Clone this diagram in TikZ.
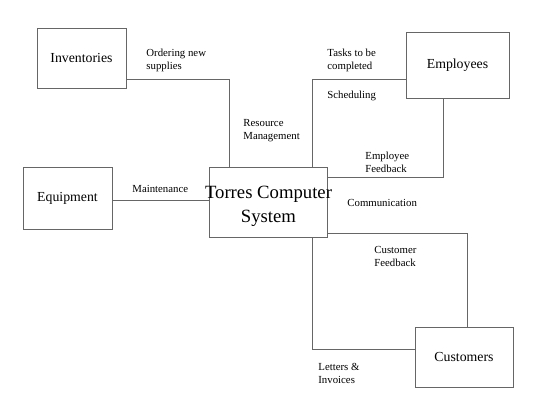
\documentclass[tikz,border=0pt]{standalone}
\usepackage{fontspec}
\setmainfont{Liberation Serif}

\begin{document}
\begin{tikzpicture}
  [x=1pt,y=-1pt,line width=0.8pt,
   box/.style={draw=black!60,rectangle,inner sep=0pt,font=\fontsize{13.8}{16}\selectfont},
   lbl/.style={anchor=west,align=left,inner sep=0pt,yshift=-1.5pt,font=\fontsize{10.8}{13}\selectfont}]
  \useasboundingbox (0,0) rectangle (560,420);
  % boxes
  \node[box,minimum width=89pt,minimum height=60pt] (inv) at (81.5,58) {Inventories};
  \node[box,minimum width=89pt,minimum height=62pt] (equ) at (67.5,198) {Equipment};
  \node[box,minimum width=118pt,minimum height=70pt] (tcs) at (268,202) {};
  \node[align=center,inner sep=0pt,font=\fontsize{18.7}{24}\selectfont] (tcst) at (268.5,206)
    {Torres Computer\\System};
  \node[box,minimum width=103pt,minimum height=66pt] (emp) at (457.5,65) {Employees};
  \node[box,minimum width=98pt,minimum height=60pt] (cus) at (464,357) {Customers};
  % connectors
  \draw[black!60] ([yshift=-21pt]inv.east) -| ([xshift=-39pt]tcs.north);
  \draw[black!60] ([yshift=-2pt]equ.east) -- ([yshift=-2pt]equ.east -| tcs.west);
  \draw[black!60] ([xshift=44pt]tcs.north) |- ([yshift=-14pt]emp.west);
  \draw[black!60] ([xshift=-14.5pt]emp.south) |- ([yshift=25pt]tcs.east);
  \draw[black!60] ([yshift=-31pt]tcs.east) -| ([xshift=3pt]cus.north);
  \draw[black!60] ([xshift=44pt]tcs.south) |- ([yshift=8pt]cus.west);
  % labels
  \node[lbl] (ord) at (146,58.5) {Ordering new\\supplies};
  \node[lbl] (res) at (243,129) {Resource\\Management};
  \node[lbl] (tsk) at (327,58.5) {Tasks to be\\completed};
  \node[lbl] (sch) at (327,94) {Scheduling};
  \node[lbl] (efb) at (365,161) {Employee\\Feedback};
  \node[lbl] (mnt) at (132,187) {Maintenance};
  \node[lbl] (com) at (347,201) {Communication};
  \node[lbl] (cfb) at (374,254.5) {Customer\\Feedback};
  \node[lbl] (let) at (318,371.5) {Letters \&\\Invoices};
\end{tikzpicture}
\end{document}
